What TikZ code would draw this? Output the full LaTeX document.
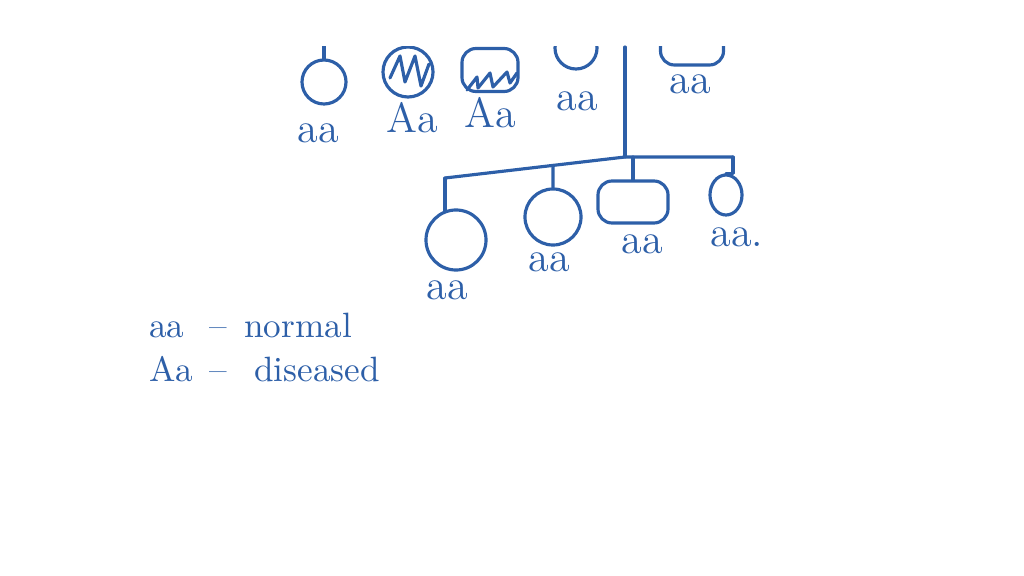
\documentclass[tikz,border=0pt]{standalone}
\usepackage{tikz}
\usetikzlibrary{calc,shapes.geometric}
\definecolor{pen}{RGB}{45,95,168}
\tikzset{
	ink/.style={draw=pen, line width=0.9pt, line cap=round, line join=round},
	female/.style={ink, circle, inner sep=0pt},
	male/.style={ink, rectangle, rounded corners=4pt, inner sep=0pt},
	geno/.style={text=pen, font=\large, inner sep=1pt, text height=1.5ex, text depth=0.25ex},
	keytext/.style={geno, font=\normalsize, anchor=west},
}

\begin{document}
\begin{tikzpicture}[x=0.01cm, y=-0.01cm]
		%%%%% START %%%%%
		\useasboundingbox (0, 0) rectangle (1024, 576);
		
		\begin{scope}
		\clip (0, 47) rectangle (1024, 576);
		
		\node[female, minimum size=0.44cm] (f1) at (324, 82) {};
		\draw[ink] (f1.north) -- ++(0, -16);
		
		\node[female, minimum size=0.50cm] (f2) at (408, 72) {};
		\draw[ink] (390, 78) -- (400, 56) -- (405, 82) -- (415, 56) -- (421, 86) -- (429, 64);
		
		\node[male, minimum width=0.56cm, minimum height=0.43cm] (m1) at (490, 70) {};
		\draw[ink] (467, 90) -- (477, 77) -- (478, 88) -- (490, 73) -- (493, 87) -- (507, 72) -- (510, 83) -- (517, 73);
		
		\node[female, minimum size=0.42cm] (f3) at (576, 48) {};
		\node[male, minimum width=0.63cm, minimum height=0.46cm] (m2) at (692, 42) {};
		\end{scope}
		
		\node[geno] (g1) at (318, 133) {aa};
		\node[geno] (g2) at (412, 123) {Aa};
		\node[geno] (g3) at (490, 118) {Aa};
		\node[geno] (g4) at (577, 101) {aa};
		\node[geno] (g5) at (690, 84) {aa};
		
		% parents and sibship line
		\coordinate (mate) at (625, 47);
		\coordinate (sib) at (625, 157);
		\coordinate (s1) at (445, 178);
		\coordinate (s4) at (733, 157);
		\draw[ink] (mate) -- (sib);
		\draw[ink] (s1) -- (sib) -- (s4);
		
		% children
		\node[female, minimum size=0.60cm] (c1) at (456, 240) {};
		\draw[ink] (s1) -- (s1 |- c1.north) -- ++(0, 3);
		
		\node[female, minimum size=0.56cm] (c2) at (553, 217) {};
		\draw[ink] ($(s1)!0.6!(sib)$) -- (c2.north);
		
		\node[male, minimum width=0.70cm, minimum height=0.42cm] (c3) at (633, 202) {};
		\draw[ink] (c3.north |- sib) -- (c3.north);
		
		\node[female, ellipse, minimum width=0.32cm, minimum height=0.40cm] (c4) at (726, 195) {};
		\draw[ink] (s4) -- (s4 |- c4.north) -- (c4.north);
		
		\node[geno] (h1) at (447, 290) {aa};
		\node[geno] (h2) at (549, 262) {aa};
		\node[geno] (h3) at (642, 244) {aa};
		\node[geno] (h4) at (737, 237) {aa.};
		
		% key
		\node[keytext] (k1) at (145, 328) {aa};
		\node[keytext] (d1) at (205, 328) {--};
		\node[keytext] (n1) at (240, 328) {normal};
		\node[keytext] (k2) at (145, 372) {Aa};
		\node[keytext] (d2) at (205, 372) {--};
		\node[keytext] (n2) at (250, 372) {diseased};
		
		%%%%% END %%%%%
	\end{tikzpicture}
\end{document}
